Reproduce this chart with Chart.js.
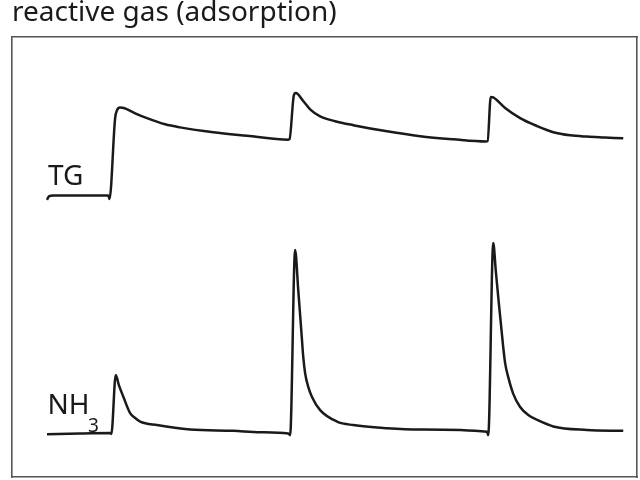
<!DOCTYPE html>
<html>
<head>
<meta charset="utf-8">
<script src="https://cdn.jsdelivr.net/npm/chart.js@4/dist/chart.umd.min.js"></script>
<style>
  html, body { margin: 0; padding: 0; background: #fff; }
  #wrap { width: 640px; height: 480px; position: relative; }
</style>
</head>
<body>
<div id="wrap"><canvas id="myChart"></canvas></div>
<script>
// data (time in arbitrary units 0-100, signal in arbitrary units 0-100)

const tgTime = [5.6, 5.9, 6.6, 10.9, 15.4, 15.6, 16.5, 16.8, 17.3, 17.9, 19.7, 21.6, 24.5, 26.9, 32.2, 37.6, 44.2,
  44.4, 45.1, 45.4, 46.6, 47.7, 49.3, 51.7, 54.6, 60.0, 65.3, 70.6, 75.8,
  76.1, 76.6, 77.0, 78.9, 81.3, 84.0, 86.6, 89.3, 92.0, 94.9, 97.8];
const tgSignal = [63.0, 63.8, 64.0, 64.0, 64.0, 63.2, 81.6, 83.4, 84.0, 83.9, 82.7, 81.6, 80.2, 79.5, 78.4, 77.6, 76.7,
  76.8, 86.8, 87.3, 85.5, 83.6, 82.0, 80.9, 80.0, 78.6, 77.5, 76.8, 76.3,
  76.4, 86.4, 86.3, 83.9, 81.6, 79.8, 78.4, 77.7, 77.4, 77.2, 77.0];

const nh3Time = [5.6, 10.9, 15.7, 15.9, 16.6, 17.1, 17.8, 18.9, 19.7, 20.5, 23.2, 28.5, 35.4, 39.7, 44.2,
  44.5, 45.3, 45.8, 46.4, 46.6, 46.9, 47.4, 48.0, 49.3, 52.0, 54.6, 60.0, 65.3, 76.0,
  76.2, 77.0, 77.4, 77.8, 78.6, 78.9, 79.4, 80.2, 81.3, 82.6, 84.0, 86.6, 92.0, 97.8];
const nh3Signal = [9.7, 9.9, 10.0, 9.8, 23.2, 20.9, 18.3, 14.5, 13.4, 12.6, 11.8, 10.8, 10.5, 10.2, 9.9,
  9.5, 51.6, 42.5, 31.1, 27.3, 23.6, 20.5, 18.2, 15.2, 12.6, 11.8, 11.1, 10.8, 10.3,
  9.5, 53.2, 47.0, 40.9, 29.5, 25.9, 22.7, 18.9, 15.9, 14.1, 13.0, 11.5, 10.7, 10.5];

const titleText = 'reactive gas (adsorption)';
const fontFamily = "'Noto Sans', 'Open Sans', sans-serif";
const ink = '#1a1a1a';
const frame = '#555555';

function toPoints(xs, ys) {
  return xs.map((x, i) => ({x: x, y: ys[i]}));
}

// series names drawn next to the start of each curve
const curveTags = {
  id: 'curveTags',
  afterDatasetsDraw(chart) {
    const ctx = chart.ctx;
    chart.data.datasets.forEach((ds, i) => {
      const first = chart.getDatasetMeta(i).data[0];
      if (!first) return;
      const x = first.x + ds.tagDx;
      const y = first.y + ds.tagDy;
      ctx.save();
      ctx.fillStyle = ink;
      ctx.textBaseline = 'alphabetic';
      ctx.textAlign = 'left';
      ctx.font = '28px ' + fontFamily;
      ctx.fillText(ds.tag, x, y);
      if (ds.tagSub) {
        const w = ctx.measureText(ds.tag).width;
        ctx.font = '19px ' + fontFamily;
        ctx.fillText(ds.tagSub, x + w - 1.5, y + 18);
      }
      ctx.restore();
    });
  }
};

const edge = (pos, axis) => ({
  type: 'linear',
  position: pos,
  axis: axis,
  min: 0,
  max: 100,
  ticks: {display: false},
  grid: {display: false, drawTicks: false},
  border: {display: true, color: frame, width: 1.6}
});

const ctx = document.getElementById('myChart').getContext('2d');
const myChart = new Chart(ctx, {
  type: 'line',
  data: {
    datasets: [{
      label: 'TG',
      tag: 'TG', tagSub: '', tagDx: 1, tagDy: -15,
      data: toPoints(tgTime, tgSignal),
      borderColor: ink,
      borderWidth: 2.5,
      pointRadius: 0,
      cubicInterpolationMode: 'monotone',
      fill: false
    }, {
      label: 'NH3',
      tag: 'NH', tagSub: '3', tagDx: 0.5, tagDy: -20.5,
      data: toPoints(nh3Time, nh3Signal),
      borderColor: ink,
      borderWidth: 2.5,
      pointRadius: 0,
      cubicInterpolationMode: 'monotone',
      fill: false
    }]
  },
  options: {
    responsive: true,
    maintainAspectRatio: false,
    animation: false,
    layout: {padding: {left: 12, right: 3, top: 0, bottom: 3}},
    scales: {
      x: edge('bottom', 'x'),
      xTop: edge('top', 'x'),
      y: edge('left', 'y'),
      yRight: edge('right', 'y')
    },
    plugins: {
      legend: {display: false},
      tooltip: {enabled: false},
      title: {
        display: true,
        text: titleText,
        align: 'start',
        color: ink,
        font: {family: fontFamily, size: 28, weight: 'normal', lineHeight: 0.9},
        padding: {top: 0, bottom: 12}
      }
    }
  },
  plugins: [curveTags]
});
</script>
</body>
</html>
